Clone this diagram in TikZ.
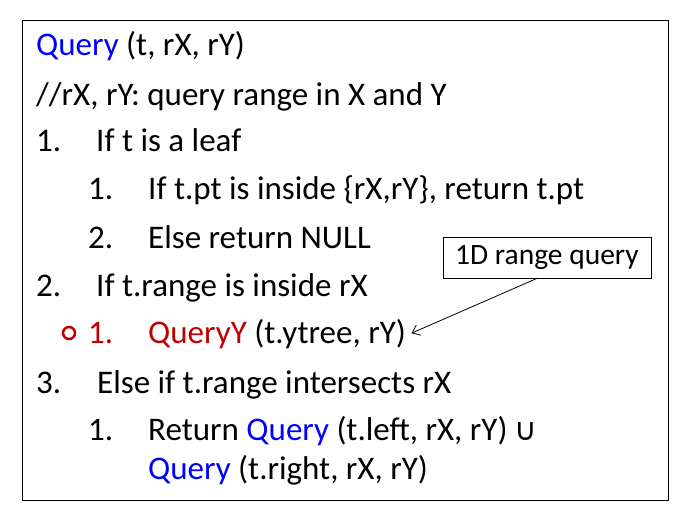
\documentclass[tikz,border=0pt]{standalone}
\usepackage{fontspec}
\usetikzlibrary{arrows.meta}
\setmainfont{Carlito}
\newfontfamily\symfont{DejaVu Sans}
\begin{document}
\begin{tikzpicture}[x=1pt,y=-1pt,
  txt/.style={anchor=base west,inner sep=0pt,font=\fontsize{33}{38}\selectfont},
  ]
\useasboundingbox (0,0) rectangle (691,519);
\node[draw,thick,minimum width=646,minimum height=480,anchor=north west] (frame) at (22,20) {};
\node[txt] (l1) at (36,56) {\textcolor{blue}{Query} (t, rX, rY)};
\node[txt] (l2) at (36,105) {//rX, rY: query range in X and Y};
\node[txt] (n3) at (36,151) {1.};
\node[txt] (l3) at (96,151) {If t is a leaf};
\node[txt] (n4) at (88,199) {1.};
\node[txt] (l4) at (148,199) {If t.pt is inside \{rX,rY\}, return t.pt};
\node[txt] (n5) at (88,248) {2.};
\node[txt] (l5) at (148,248) {Else return NULL};
\node[txt] (n6) at (36,296) {2.};
\node[txt] (l6) at (96,296) {If t.range is inside rX};
\node[draw=red!75!black,line width=2.5pt,circle,minimum size=12pt,inner sep=0pt] (circ) at (69,333) {};
\node[txt,text=red!75!black] (n7) at (88,343) {1.};
\node[txt] (l7) at (148,343) {\textcolor{red!75!black}{QueryY} (t.ytree, rY)};
\node[txt] (n8) at (36,393) {3.};
\node[txt] (l8) at (97,393) {Else if t.range intersects rX};
\node[txt] (n9) at (88,440) {1.};
\node[txt] (l9) at (148,440) {Return \textcolor{blue}{Query} (t.left, rX, rY) {\symfont\fontsize{31}{34}\selectfont ∪}};
\node[txt] (l10) at (148,479) {\textcolor{blue}{Query} (t.right, rX, rY)};
\node[draw,fill=white,inner xsep=12pt,minimum height=41,font=\fontsize{29.5}{32}\selectfont,anchor=north west] (call) at (443,237) {1D range query};
\draw[-{Straight Barb[length=7pt,width=11pt]},line width=0.8pt,shorten >=6pt] ([xshift=-10pt]call.south) -- ([yshift=-2pt]l7.east);
\end{tikzpicture}
\end{document}
